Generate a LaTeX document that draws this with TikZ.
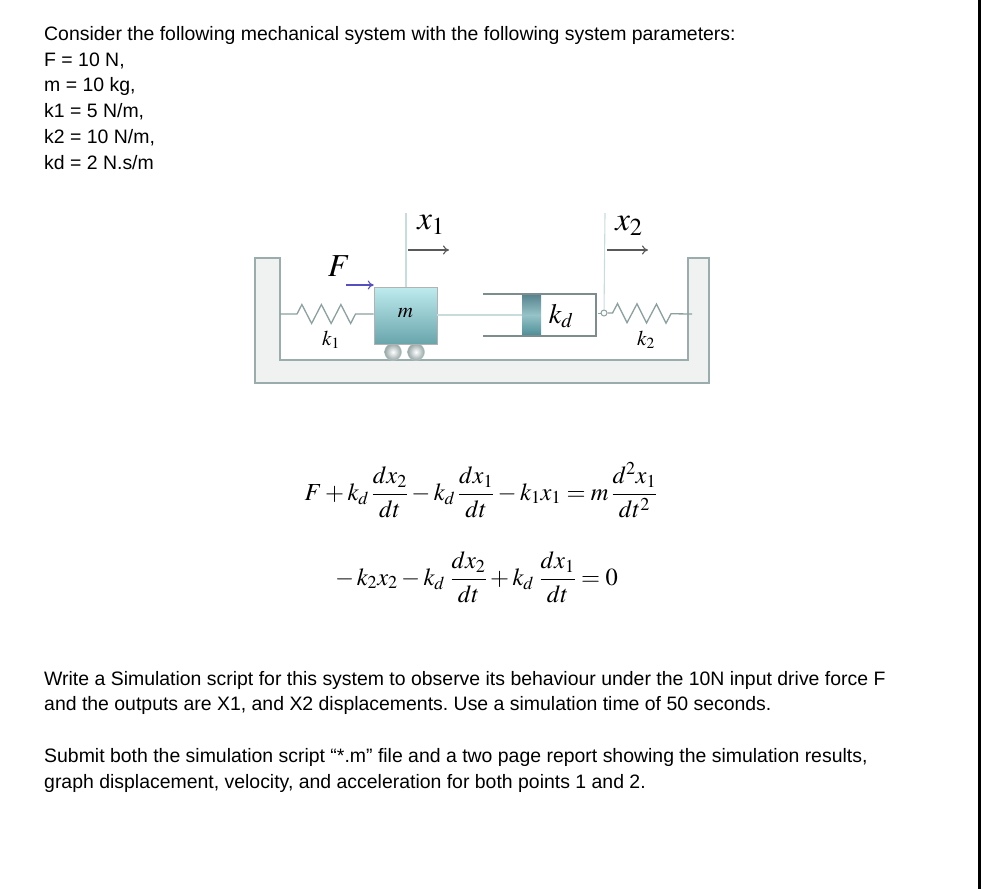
\documentclass[tikz,border=0pt]{standalone}
\usepackage{amsmath}
\usepackage{mathptmx}
\usepackage[no-math]{fontspec}
\setmainfont{Liberation Sans}
\usetikzlibrary{decorations.pathmorphing,arrows.meta}

\definecolor{traycolor}{RGB}{155,172,172}
\definecolor{trayfill}{RGB}{240,241,241}
\definecolor{springcolor}{RGB}{140,160,160}
\definecolor{guidecolor}{RGB}{200,220,220}
\definecolor{cylcolor}{RGB}{125,140,140}
\definecolor{forcecolor}{RGB}{85,80,190}
\definecolor{masstop}{RGB}{190,235,238}
\definecolor{massbot}{RGB}{105,165,172}
\definecolor{pistontop}{RGB}{85,130,140}
\definecolor{pistonmid}{RGB}{150,195,200}
\definecolor{pistonbot}{RGB}{75,140,150}

\tikzset{
  para/.style={anchor=north west,inner sep=0pt,align=left,font=\fontsize{19.44}{25.7}\selectfont},
  sym/.style={inner sep=0pt,font=\fontsize{21}{24}\selectfont},
  eqn/.style={inner sep=0pt,font=\fontsize{24.5}{28}\selectfont},
  spring/.style={draw=springcolor,line width=1.3pt,decorate,
    decoration={zigzag,segment length=19.5pt,amplitude=9.5pt,pre length=17pt,post length=12pt}},
  guide/.style={draw=guidecolor,line width=1.1pt},
  disp/.style={draw=black!65,line width=1.1pt,-{To[length=6pt,width=9pt]}},
  wheel/.style={circle,minimum size=17pt,inner sep=0pt,draw=guidecolor!90!black,inner color=white,outer color=guidecolor!75!black}
}

\begin{document}
\frenchspacing
\begin{tikzpicture}[x=1pt,y=-1pt]
  \useasboundingbox (0,0) rectangle (981,889);
  \fill[black] (978,0) rectangle (981,889);

  % problem text
  \node[para,font=\fontsize{19.44}{25.85}\selectfont] (intro) at (44,26) {Consider the following mechanical system with the following system parameters:\\
    F = 10 N,\\ m = 10 kg,\\ k1 = 5 N/m,\\ k2 = 10 N/m,\\ kd = 2 N.s/m};

  % tray
  \filldraw[draw=traycolor,fill=trayfill,line width=1.3pt]
    (255,258) -- (280,258) -- (280,360) -- (688,360) -- (688,258)
    -- (709,258) -- (709,383) -- (255,383) -- cycle;

  % mass
  \node[wheel] (wheelA) at (393,352) {};
  \node[wheel] (wheelB) at (416,352) {};
  \node[draw=black!30,line width=.6pt,top color=masstop,bottom color=massbot,
    minimum width=63pt,minimum height=57pt,inner sep=0pt] (mass) at (405.5,315.5) {};
  \node[sym] (masslabel) at (405.5,313) {$m$};

  % left spring
  \coordinate (wallA) at (280,314);
  \draw[spring] (wallA) -- (wallA -| mass.west);
  \node[sym] (kone) at (331,340) {$k_1$};

  % force
  \node[sym,font=\fontsize{32}{34}\selectfont] (force) at (339,266) {$F$};
  \coordinate (forcestart) at (346,285);
  \draw[draw=forcecolor,line width=1.1pt,-{To[length=6pt,width=9pt]}] (forcestart) -- (forcestart -| mass.west);

  % damper
  \node[inner sep=0pt,minimum width=19pt,minimum height=42pt,draw=none,
    top color=pistontop,bottom color=pistonbot,middle color=pistonmid] (piston) at (531.5,315) {};
  \draw[guide] (mass.east |- piston) -- (piston);
  \coordinate (cylA) at (483,294);
  \coordinate (cylB) at (596,294);
  \coordinate (cylC) at (596,336);
  \coordinate (cylD) at (483,336);
  \draw[draw=cylcolor,line width=1.1pt] (cylA) -- (cylB) -- (cylC) -- (cylD);
  \node[sym,font=\fontsize{28}{30}\selectfont] (kd) at (561,316) {$k_d$};

  % right spring
  \node[circle,draw=springcolor,line width=1pt,minimum size=6pt,inner sep=0pt] (joint) at (604,313) {};
  \draw[draw=springcolor,line width=1pt] (598,313) -- (joint);
  \coordinate (wallB) at (692,314);
  \draw[spring,decoration={pre length=5pt,post length=12pt}] (joint.east) -- (wallB);
  \node[sym] (ktwo) at (646,340) {$k_2$};

  % displacements
  \coordinate (topA) at (406,213);
  \coordinate (topB) at (605,213);
  \draw[guide] (topA) -- (topA |- mass.north);
  \draw[guide] (topB) -- (joint);
  \coordinate (dispA) at (408,250);
  \coordinate (dispB) at (607,250);
  \draw[disp] (dispA) -- ++(41,0);
  \draw[disp] (dispB) -- ++(41,0);
  \node[sym,font=\fontsize{33}{34}\selectfont] (xone) at (431,225) {$x_1$};
  \node[sym,font=\fontsize{33}{34}\selectfont] (xtwo) at (629,226) {$x_2$};

  % equations
  \node[eqn] (eqA) at (481,490) {$\displaystyle F+k_d\,\frac{dx_2}{dt}-k_d\,\frac{dx_1}{dt}-k_1x_1=m\,\frac{d^2x_1}{dt^2}$};
  \node[eqn] (eqB) at (476.5,577) {$\displaystyle -\,k_2x_2-k_d\,\,\frac{dx_2}{dt}+k_d\,\,\frac{dx_1}{dt}=0$};

  % task text
  \node[para] (task) at (44,671) {Write a Simulation script for this system to observe its behaviour under the 10N input drive force F\\
    and the outputs are X1, and X2 displacements. Use a simulation time of 50 seconds.};
  \node[para] (submit) at (44,748) {Submit both the simulation script “*.m” file and a two page report showing the simulation results,\\
    graph displacement, velocity, and acceleration for both points 1 and 2.};
\end{tikzpicture}
\end{document}
